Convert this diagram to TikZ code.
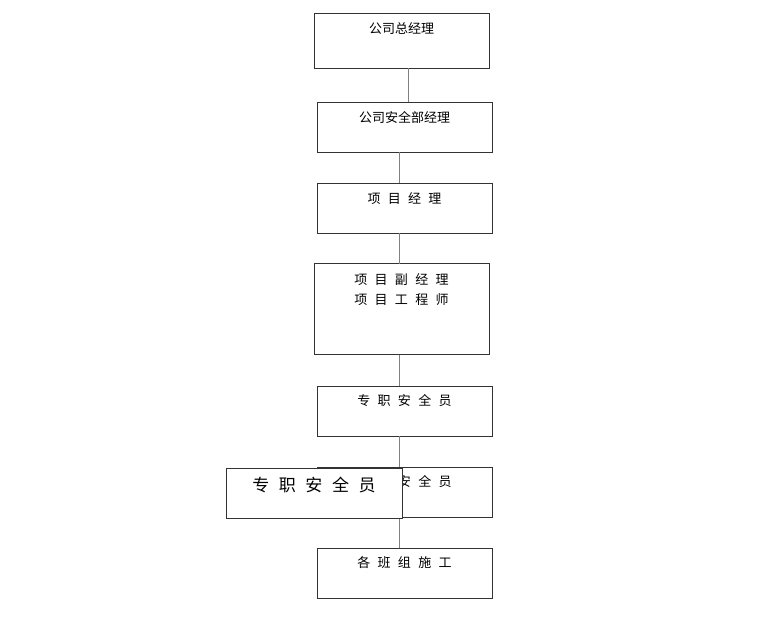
\documentclass[tikz,border=0pt]{standalone}
\usepackage{fontspec}
\usepackage{xcolor}
\usepackage{tikz}
\usetikzlibrary{calc}
\usetikzlibrary{positioning}
\newfontfamily\cjk[WordSpace=2.5]{Noto Sans CJK SC}
\tikzset{
	orgbox/.style={draw=black!80,fill=white,line width=0.8pt,rectangle,inner sep=0pt,outer sep=0pt,minimum width=175pt,minimum height=50pt},
	orgtext/.style={inner sep=0pt,align=center,font=\cjk\fontsize{13}{20}\selectfont},
	orgline/.style={draw=gray,line width=0.8pt}
}
\begin{document}
\begin{tikzpicture}[x=1pt,y=-1pt]
		\useasboundingbox (0,0) rectangle (760,616);
		\coordinate (spine) at (399,0);
		\node[orgbox,minimum height=55pt] (b1) at (401.5,40.5) {};
		\node[orgtext] (t1) at ([yshift=-15.5pt]b1.north) {公司总经理};
		\node[orgbox] (b2) at (404.5,127) {};
		\node[orgtext] (t2) at ([yshift=-15pt]b2.north) {公司安全部经理};
		\node[orgbox] (b3) at (404.5,208) {};
		\node[orgtext] (t3) at ([yshift=-15.5pt]b3.north) {项 目 经 理};
		\node[orgbox,minimum height=91pt] (b4) at (401.5,309) {};
		\node[orgtext,anchor=north] (t4) at ([yshift=-10pt]b4.north) {项 目 副 经 理\\项 目 工 程 师};
		\node[orgbox] (b5) at (404.5,411) {};
		\node[orgtext] (t5) at ([yshift=-15pt]b5.north) {专 职 安 全 员};
		\node[orgbox] (b6) at (404.5,492) {};
		\node[orgtext] (t6) at ([yshift=-15pt]b6.north) {专 职 安 全 员};
		\node[orgbox] (b7) at (404.5,573) {};
		\node[orgtext] (t7) at ([yshift=-15pt]b7.north) {各 班 组 施 工};
		\draw[orgline] ([xshift=6.5pt]b1.south) -- ([xshift=3.5pt]b2.north);
		\foreach \a/\b in {b2/b3,b3/b4,b4/b5,b5/b6,b6/b7}
			\draw[orgline] (\a.south -| spine) -- (\b.north -| spine);
		\node[orgbox,minimum width=176pt] (ov) at (314,493) {};
		\node[orgtext,font=\cjk\fontsize{17}{20}\selectfont] (tov) at ([yshift=-17pt]ov.north) {专 职 安 全 员};
	\end{tikzpicture}
\end{document}
